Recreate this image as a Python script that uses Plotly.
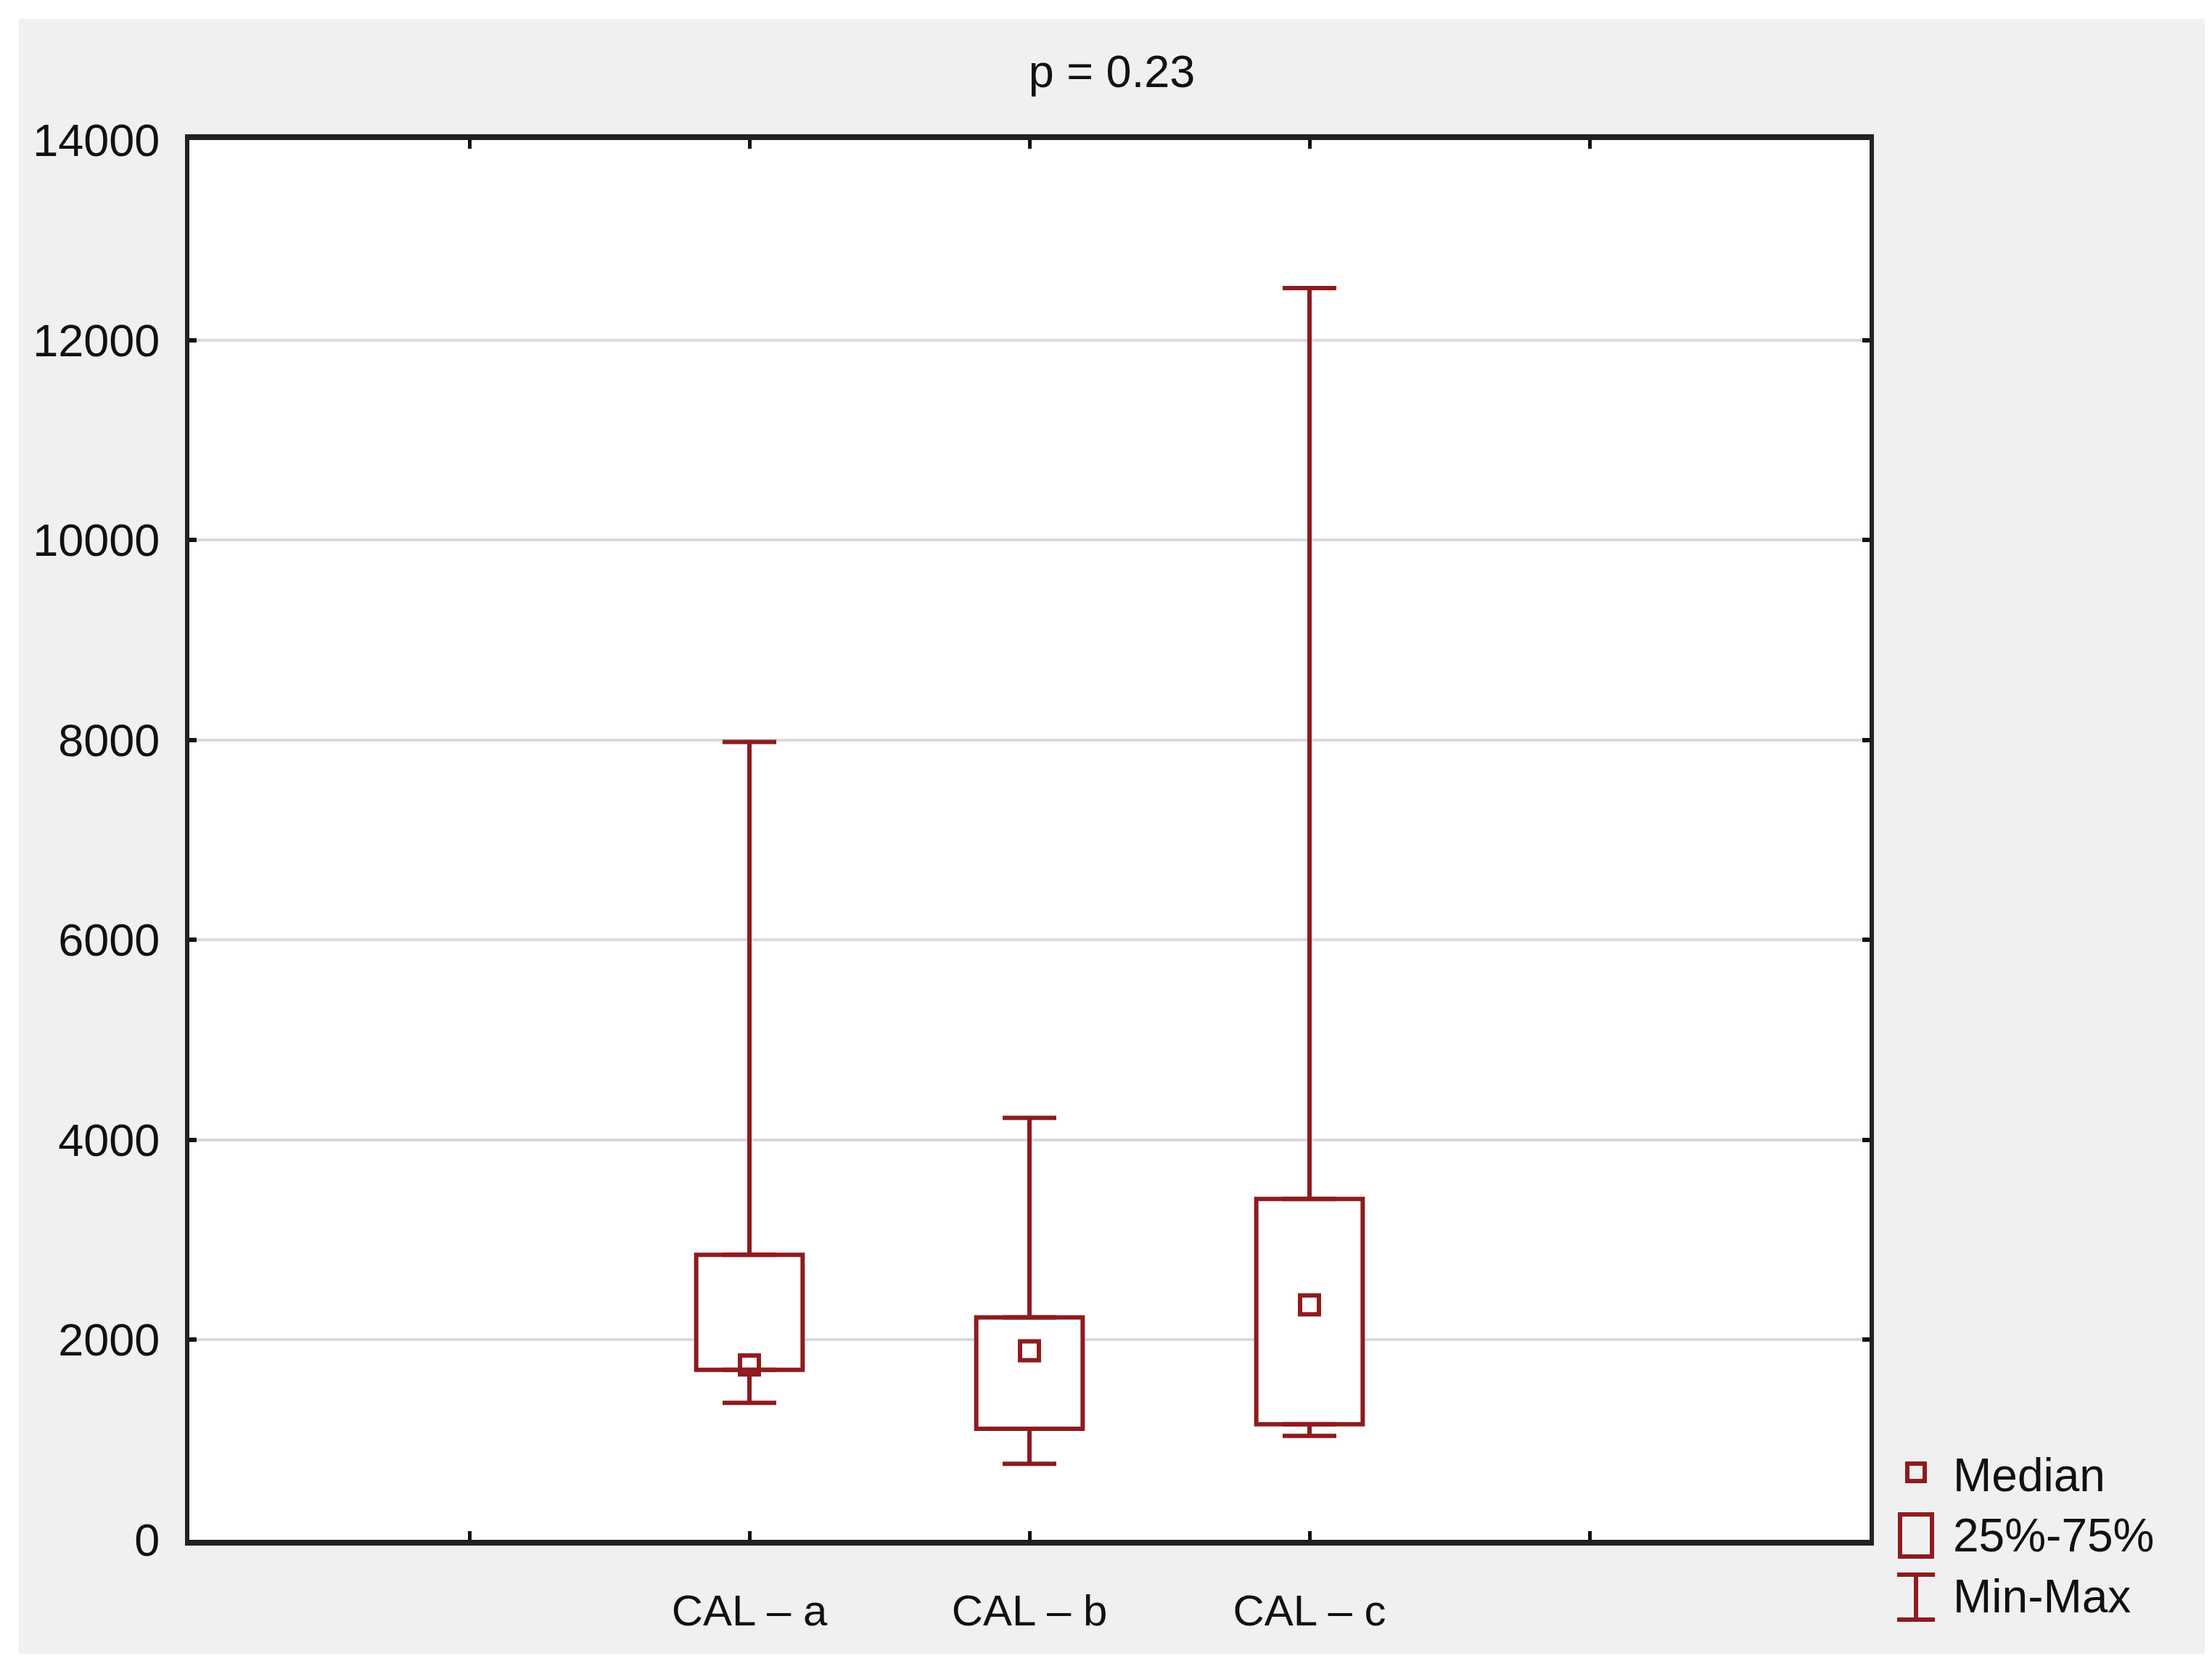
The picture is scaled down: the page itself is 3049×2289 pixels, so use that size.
import plotly.graph_objects as go

# 数据：每组的最小值、下四分位、中位数、上四分位、最大值
groups = ["CAL – a", "CAL – b", "CAL – c"]
x_pos = [0, 1, 2]
v_min = [1370, 760, 1040]
v_q1 = [1700, 1110, 1155]
v_med = [1750, 1890, 2350]
v_q3 = [2850, 2225, 3410]
v_max = [7980, 4220, 12520]

y_ticks = [0, 2000, 4000, 6000, 8000, 10000, 12000, 14000]
title_text = "p = 0.23"
legend_labels = ["Median", "25%-75%", "Min-Max"]

RED = "#8E1B1F"
GRAY = "#F0F0F0"
W, H = 3049, 2289
L, R, T, B = 253, 480, 185, 175
FONT = "Liberation Sans, Arial, sans-serif"


def px(x, y):
    # 像素坐标 -> paper 坐标
    return (x - L) / (W - L - R), (H - B - y) / (H - T - B)


fig = go.Figure()

# 25%-75% 箱体
fig.add_trace(go.Bar(
    x=x_pos, base=v_q1, y=[b - a for a, b in zip(v_q1, v_q3)],
    width=0.38, marker=dict(color="white", line=dict(color=RED, width=6)),
    showlegend=False, hoverinfo="skip"))

# 上须
fig.add_trace(go.Scatter(
    x=x_pos, y=v_q3, mode="markers", marker=dict(size=1, color="rgba(0,0,0,0)"),
    error_y=dict(type="data", symmetric=False,
                 array=[m - q for m, q in zip(v_max, v_q3)], arrayminus=[0, 0, 0],
                 color=RED, thickness=6, width=37),
    showlegend=False, hoverinfo="skip"))

# 下须
fig.add_trace(go.Scatter(
    x=x_pos, y=v_q1, mode="markers", marker=dict(size=1, color="rgba(0,0,0,0)"),
    error_y=dict(type="data", symmetric=False,
                 array=[0, 0, 0], arrayminus=[q - m for q, m in zip(v_q1, v_min)],
                 color=RED, thickness=6, width=37),
    showlegend=False, hoverinfo="skip"))

# 中位数
fig.add_trace(go.Scatter(
    x=x_pos, y=v_med, mode="markers",
    marker=dict(symbol="square-open", size=26, color=RED, line=dict(width=6)),
    showlegend=False, hoverinfo="skip"))

# 外圈白边
a0, b0 = px(0, 0)
a1, b1 = px(W, H)
shapes = [dict(type="rect", xref="paper", yref="paper", x0=a0, x1=a1, y0=b1, y1=b0,
               line=dict(color="white", width=36), layer="below")]

# 图例（手绘）
lx, dx, dy = 2633, -8, -8
a0, b0 = px(lx - 12, 2017 + dy)
a1, b1 = px(lx + 12, 2041 + dy)
shapes.append(dict(type="rect", xref="paper", yref="paper", x0=a0, x1=a1, y0=b1, y1=b0,
                   line=dict(color=RED, width=6), fillcolor=GRAY))
a0, b0 = px(lx - 22, 2087 + dy)
a1, b1 = px(lx + 22, 2145 + dy)
shapes.append(dict(type="rect", xref="paper", yref="paper", x0=a0, x1=a1, y0=b1, y1=b0,
                   line=dict(color=RED, width=6), fillcolor=GRAY))
for yy in (2170 + dy, 2232 + dy):
    a0, b0 = px(lx - 26, yy)
    a1, _ = px(lx + 26, yy)
    shapes.append(dict(type="line", xref="paper", yref="paper", x0=a0, x1=a1, y0=b0, y1=b0,
                       line=dict(color=RED, width=6)))
a0, b0 = px(lx, 2170 + dy)
_, b1 = px(lx, 2232 + dy)
shapes.append(dict(type="line", xref="paper", yref="paper", x0=a0, x1=a0, y0=b0, y1=b1,
                   line=dict(color=RED, width=6)))

annotations = []
for lab, yy in zip(legend_labels, [2033, 2116, 2200]):
    ax, ay = px(2690 + dx, yy + dy)
    annotations.append(dict(text=lab, xref="paper", yref="paper", x=ax, y=ay,
                            xanchor="left", yanchor="middle", showarrow=False,
                            font=dict(family=FONT, size=64, color="#111111")))

fig.update_layout(
    width=W, height=H,
    margin=dict(l=L, r=R, t=T, b=B),
    paper_bgcolor=GRAY, plot_bgcolor="white",
    title=dict(text=title_text, x=0.5, xanchor="center",
               y=1 - 90 / H, yanchor="middle",
               font=dict(family=FONT, size=63, color="#111111")),
    shapes=shapes, annotations=annotations,
    showlegend=False, barmode="overlay",
)

fig.update_xaxes(
    range=[-2, 4], tickvals=[-2, -1, 0, 1, 2, 3, 4],
    ticktext=["", ""] + groups + ["", ""],
    ticks="inside", ticklen=12, tickwidth=5, tickcolor="#111111",
    showline=True, linewidth=8, linecolor="#222222", mirror="ticks",
    showgrid=False, zeroline=False,
    tickfont=dict(family=FONT, size=60, color="#111111"), ticklabelstandoff=38,
)
fig.update_yaxes(
    range=[0, 14000], tickvals=y_ticks, tickformat="d",
    ticks="inside", ticklen=10, tickwidth=6, tickcolor="#111111",
    showline=True, linewidth=6, linecolor="#222222", mirror="ticks",
    showgrid=True, gridcolor="#DADADA", gridwidth=4, zeroline=False,
    tickfont=dict(family=FONT, size=63, color="#111111"), ticklabelstandoff=22,
)

fig.write_html("out.html")
